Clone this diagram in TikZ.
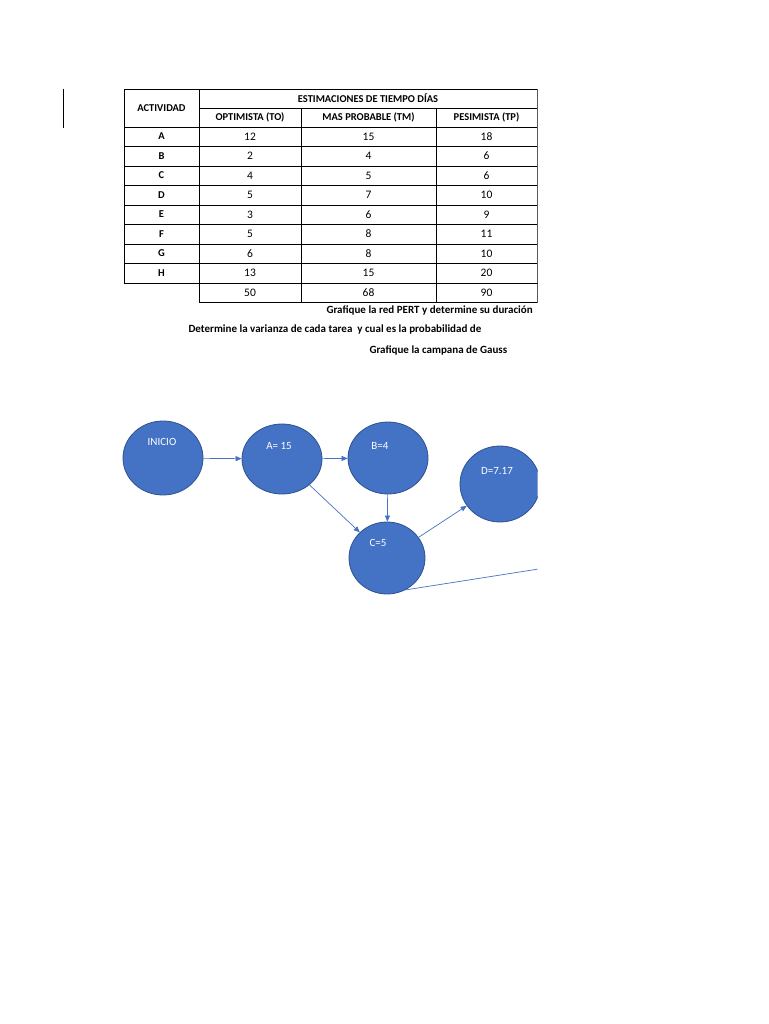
\documentclass[tikz,border=0pt]{standalone}
\usepackage{fontspec}
\setmainfont{Carlito}
\usetikzlibrary{arrows.meta,shapes.geometric}
\definecolor{nodeblue}{HTML}{4472C4}
\definecolor{nodeedge}{HTML}{2F528F}
\begin{document}
\begin{tikzpicture}[x=1pt,y=-1pt,
  ev/.style={ellipse,draw=nodeedge,fill=nodeblue,line width=0.8pt,inner sep=0pt},
  lab/.style={text=white,font=\fontsize{11}{12}\selectfont},
  conn/.style={draw=nodeblue,line width=0.7pt,-{Triangle[length=6pt,width=5pt]}},
  cell/.style={font=\fontsize{11.5}{12}\selectfont},
  hcell/.style={font=\bfseries\fontsize{10.5}{12}\selectfont},
  note/.style={anchor=west,font=\bfseries\fontsize{11}{12}\selectfont}]
\useasboundingbox (0,0) rectangle (768,1024);
\fill[white] (0,0) rectangle (768,1024);
\draw[line width=1pt] (63,89) -- (63,128);
\begin{scope}
\clip (0,0) rectangle (537.5,1024);
% table
\draw[line width=0.8pt] (124,89) rectangle (537,283);
\draw[line width=0.8pt] (199,89) -- (199,302) -- (537,302) -- (537,283);
\draw[line width=0.8pt] (199,108) -- (537,108);
\draw[line width=0.8pt] (301,108) -- (301,302);
\draw[line width=0.8pt] (436,108) -- (436,302);
\foreach \y in {127,146,166,185,205,224,244,263} \draw[line width=0.8pt] (124,\y) -- (537,\y);
\draw[line width=0.8pt] (199,283) -- (537,283);
\node[hcell] (hact) at (161.5,108) {ACTIVIDAD};
\node[hcell] (hest) at (368,98.5) {ESTIMACIONES DE TIEMPO DÍAS};
\node[hcell] (hto) at (250,117.5) {OPTIMISTA (TO)};
\node[hcell] (htm) at (368.5,117.5) {MAS PROBABLE (TM)};
\node[hcell] (htp) at (486.5,117.5) {PESIMISTA (TP)};
\foreach \a/\o/\m/\p/\y in {A/12/15/18/136.5,B/2/4/6/156,C/4/5/6/175.5,D/5/7/10/195,E/3/6/9/214.5,F/5/8/11/234,G/6/8/10/253.5,H/13/15/20/273}{
  \node[cell,font=\bfseries\fontsize{10.5}{12}\selectfont] at (161.5,\y) {\a};
  \node[cell] at (250,\y) {\o};
  \node[cell] at (368.5,\y) {\m};
  \node[cell] at (486.5,\y) {\p};
}
\node[cell] (t1) at (250,292.5) {50};
\node[cell] (t2) at (368.5,292.5) {68};
\node[cell] (t3) at (486.5,292.5) {90};
\node[note] (n1) at (323,310) {Grafique la red PERT y determine su duración};
\node[note] (n2) at (185,330) {Determine la varianza de cada tarea\ \ y cual es la probabilidad de};
\node[note] (n3) at (366,350) {Grafique la campana de Gauss};
% network
\node[ev,minimum width=80pt,minimum height=74pt] (ini) at (163,458) {};
\node[ev,minimum width=80pt,minimum height=70pt] (a) at (282,459) {};
\node[ev,minimum width=80pt,minimum height=72pt] (b) at (388,458) {};
\node[ev,minimum width=76pt,minimum height=72pt] (c) at (387,558) {};
\node[ev,minimum width=80pt,minimum height=76pt] (d) at (500,484) {};
\node[lab] at (162,442) {INICIO};
\node[lab] at (279,446) {A= 15};
\node[lab] at (380,446) {B=4};
\node[lab] at (378,543) {C=5};
\node[lab] at (497,471) {D=7.17};
\coordinate (e) at (545,568);
\draw[conn] (ini) -- (a);
\draw[conn] (a) -- (b);
\draw[conn] (a) -- (c);
\draw[conn] (b) -- (c);
\draw[conn] (c) -- (d);
\draw[draw=nodeblue,line width=0.7pt] (c.-60) -- (e);
\end{scope}
\end{tikzpicture}
\end{document}
